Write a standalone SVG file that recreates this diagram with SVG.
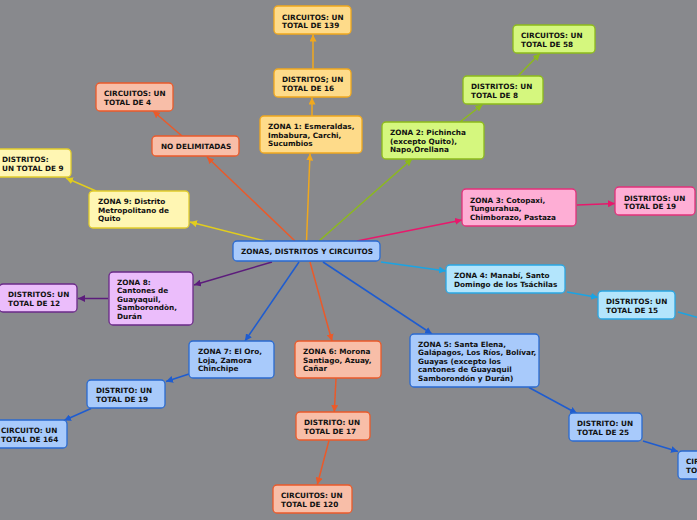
<svg xmlns="http://www.w3.org/2000/svg" width="697" height="520" viewBox="0 0 697 520">
<style>
text{font-family:"DejaVu Sans","Verdana",sans-serif;font-size:7.3px;font-weight:bold;fill:#111;}
.n rect{stroke-width:1.3;}
.blue rect{fill:#a8cafb;stroke:#2a6ad0;}
.gold rect{fill:#fedb8a;stroke:#f0a81e;}
.salmon rect{fill:#f8bea8;stroke:#ea5a2a;}
.yel rect{fill:#fff6b3;stroke:#e2cd2d;}
.green rect{fill:#d5f77e;stroke:#8cba1b;}
.pink rect{fill:#feaed5;stroke:#e2307a;}
.cyan rect{fill:#b3e5fc;stroke:#2aa6e2;}
.purple rect{fill:#ebbdfb;stroke:#6a2a88;}
#connectors line{stroke-width:1.5;fill:none;}
.c-gold{stroke:#f0a81e;}
.c-salmon{stroke:#ea5a2a;}
.c-yel{stroke:#e2cd1d;}
.c-green{stroke:#8cba1b;}
.c-pink{stroke:#e8186c;}
.c-cyan{stroke:#1aa4e4;}
.c-blue{stroke:#1e5cd0;}
.c-purple{stroke:#5c1c7c;}
</style>
<defs>
<marker id="a-gold" markerUnits="userSpaceOnUse" markerWidth="8" markerHeight="7" refX="7" refY="3.5" orient="auto"><path d="M0,0 L7,3.5 L0,7 z" fill="#f0a81e"/></marker>
<marker id="a-salmon" markerUnits="userSpaceOnUse" markerWidth="8" markerHeight="7" refX="7" refY="3.5" orient="auto"><path d="M0,0 L7,3.5 L0,7 z" fill="#ea5a2a"/></marker>
<marker id="a-yel" markerUnits="userSpaceOnUse" markerWidth="8" markerHeight="7" refX="7" refY="3.5" orient="auto"><path d="M0,0 L7,3.5 L0,7 z" fill="#e2cd1d"/></marker>
<marker id="a-green" markerUnits="userSpaceOnUse" markerWidth="8" markerHeight="7" refX="7" refY="3.5" orient="auto"><path d="M0,0 L7,3.5 L0,7 z" fill="#8cba1b"/></marker>
<marker id="a-pink" markerUnits="userSpaceOnUse" markerWidth="8" markerHeight="7" refX="7" refY="3.5" orient="auto"><path d="M0,0 L7,3.5 L0,7 z" fill="#e8186c"/></marker>
<marker id="a-cyan" markerUnits="userSpaceOnUse" markerWidth="8" markerHeight="7" refX="7" refY="3.5" orient="auto"><path d="M0,0 L7,3.5 L0,7 z" fill="#1aa4e4"/></marker>
<marker id="a-blue" markerUnits="userSpaceOnUse" markerWidth="8" markerHeight="7" refX="7" refY="3.5" orient="auto"><path d="M0,0 L7,3.5 L0,7 z" fill="#1e5cd0"/></marker>
<marker id="a-purple" markerUnits="userSpaceOnUse" markerWidth="8" markerHeight="7" refX="7" refY="3.5" orient="auto"><path d="M0,0 L7,3.5 L0,7 z" fill="#5c1c7c"/></marker>
</defs>
<rect x="0" y="0" width="697" height="520" fill="#88898d"/>

<g id="connectors">
<line class="c-gold" x1="306.5" y1="241" x2="310" y2="153.5" marker-end="url(#a-gold)"/>
<line class="c-gold" x1="312" y1="116" x2="312" y2="97.5" marker-end="url(#a-gold)"/>
<line class="c-gold" x1="313" y1="69" x2="313" y2="34.5" marker-end="url(#a-gold)"/>
<line class="c-salmon" x1="295" y1="241" x2="207" y2="157" marker-end="url(#a-salmon)"/>
<line class="c-salmon" x1="182" y1="136" x2="153" y2="111" marker-end="url(#a-salmon)"/>
<line class="c-yel" x1="265" y1="241" x2="190" y2="222" marker-end="url(#a-yel)"/>
<line class="c-yel" x1="96" y1="191" x2="66" y2="178" marker-end="url(#a-yel)"/>
<line class="c-green" x1="319" y1="241" x2="412" y2="159" marker-end="url(#a-green)"/>
<line class="c-green" x1="460" y1="122" x2="482.5" y2="104.5" marker-end="url(#a-green)"/>
<line class="c-green" x1="518" y1="76" x2="540" y2="53.5" marker-end="url(#a-green)"/>
<line class="c-pink" x1="357" y1="241" x2="462" y2="220" marker-end="url(#a-pink)"/>
<line class="c-pink" x1="577" y1="205" x2="615" y2="203.5" marker-end="url(#a-pink)"/>
<line class="c-cyan" x1="381" y1="262" x2="446" y2="271" marker-end="url(#a-cyan)"/>
<line class="c-cyan" x1="567" y1="292" x2="598" y2="297.5" marker-end="url(#a-cyan)"/>
<line class="c-cyan" x1="678" y1="312" x2="700" y2="318"/>
<line class="c-blue" x1="323" y1="262" x2="432" y2="334" marker-end="url(#a-blue)"/>
<line class="c-blue" x1="529" y1="387.5" x2="577" y2="413.5" marker-end="url(#a-blue)"/>
<line class="c-blue" x1="643" y1="441" x2="678" y2="451.5" marker-end="url(#a-blue)"/>
<line class="c-purple" x1="272" y1="262" x2="194" y2="285" marker-end="url(#a-purple)"/>
<line class="c-purple" x1="108" y1="298.5" x2="78" y2="298.5" marker-end="url(#a-purple)"/>
<line class="c-blue" x1="299" y1="262" x2="245" y2="341" marker-end="url(#a-blue)"/>
<line class="c-blue" x1="189" y1="374" x2="166" y2="381.5" marker-end="url(#a-blue)"/>
<line class="c-blue" x1="91" y1="408.5" x2="64" y2="420.5" marker-end="url(#a-blue)"/>
<line class="c-salmon" x1="310" y1="262" x2="332" y2="341" marker-end="url(#a-salmon)"/>
<line class="c-salmon" x1="336" y1="378.5" x2="334.3" y2="412" marker-end="url(#a-salmon)"/>
<line class="c-salmon" x1="329" y1="440.5" x2="317.3" y2="484.5" marker-end="url(#a-salmon)"/>
</g>

<g id="center" class="n blue"><rect x="233" y="241" width="147" height="20" rx="4"/><text x="241" y="254">ZONAS, DISTRITOS Y CIRCUITOS</text></g>

<g id="z1" class="n gold"><rect x="260" y="116" width="102" height="37" rx="4"/><text x="268" y="129">ZONA 1: Esmeraldas,</text><text x="268" y="137.6">Imbabura, Carchi,</text><text x="268" y="146.2">Sucumbios</text></g>
<g id="z1d" class="n gold"><rect x="274" y="69" width="77" height="28" rx="4"/><text x="282" y="82">DISTRITOS; UN</text><text x="282" y="90.8">TOTAL DE 16</text></g>
<g id="z1c" class="n gold"><rect x="274" y="6" width="77" height="28" rx="4"/><text x="282" y="19.5">CIRCUITOS: UN</text><text x="282" y="28.3">TOTAL DE 139</text></g>

<g id="nd" class="n salmon"><rect x="152" y="136" width="87" height="20" rx="4"/><text x="161" y="149">NO DELIMITADAS</text></g>
<g id="ndc" class="n salmon"><rect x="96" y="83" width="77" height="28" rx="4"/><text x="104" y="96">CIRCUITOS: UN</text><text x="104" y="104.6">TOTAL DE 4</text></g>

<g id="z9" class="n yel"><rect x="89" y="191" width="100" height="37" rx="4"/><text x="98" y="204">ZONA 9: Distrito</text><text x="98" y="212.6">Metropolitano de</text><text x="98" y="221.2">Quito</text></g>
<g id="z9d" class="n yel"><rect x="-6" y="149" width="77" height="28" rx="4"/><text x="2" y="162">DISTRITOS:</text><text x="2" y="170.6">UN TOTAL DE 9</text></g>

<g id="z2" class="n green"><rect x="382" y="122" width="102" height="37" rx="4"/><text x="390" y="135">ZONA 2: Pichincha</text><text x="390" y="143.6">(excepto Quito),</text><text x="390" y="152.2">Napo,Orellana</text></g>
<g id="z2d" class="n green"><rect x="463" y="76" width="80" height="28" rx="4"/><text x="471" y="89">DISTRITOS: UN</text><text x="471" y="97.6">TOTAL DE 8</text></g>
<g id="z2c" class="n green"><rect x="513" y="25" width="82" height="28" rx="4"/><text x="521" y="38">CIRCUITOS: UN</text><text x="521" y="46.6">TOTAL DE 58</text></g>

<g id="z3" class="n pink"><rect x="462" y="189" width="114" height="37" rx="4"/><text x="470" y="202.5">ZONA 3: Cotopaxi,</text><text x="470" y="211.1">Tungurahua,</text><text x="470" y="219.7">Chimborazo, Pastaza</text></g>
<g id="z3d" class="n pink"><rect x="615" y="187" width="80" height="28" rx="4"/><text x="624" y="200.5">DISTRITOS: UN</text><text x="624" y="209.1">TOTAL DE 19</text></g>

<g id="z4" class="n cyan"><rect x="446" y="265" width="119" height="28" rx="4"/><text x="454" y="278">ZONA 4: Manabí, Santo</text><text x="454" y="286.6">Domingo de los Tsáchilas</text></g>
<g id="z4d" class="n cyan"><rect x="598" y="291" width="77" height="28" rx="4"/><text x="606" y="304">DISTRITOS: UN</text><text x="606" y="312.6">TOTAL DE 15</text></g>

<g id="z5" class="n blue"><rect x="410" y="334" width="129" height="53" rx="4"/><text x="418" y="346.5">ZONA 5: Santa Elena,</text><text x="418" y="355.1">Galápagos, Los Ríos, Bolívar,</text><text x="418" y="363.7">Guayas (excepto los</text><text x="418" y="372.3">cantones de Guayaquil</text><text x="418" y="380.9">Samborondón y Durán)</text></g>
<g id="z5d" class="n blue"><rect x="569" y="413" width="73" height="28" rx="4"/><text x="577" y="426">DISTRITO: UN</text><text x="577" y="434.6">TOTAL DE 25</text></g>
<g id="z5c" class="n blue"><rect x="678" y="451" width="80" height="28" rx="4"/><text x="686" y="464">CIR</text><text x="686" y="472.6">TOT</text></g>

<g id="z8" class="n purple"><rect x="109" y="272" width="84" height="53" rx="4"/><text x="117" y="284.5">ZONA 8:</text><text x="117" y="293.1">Cantones de</text><text x="117" y="301.7">Guayaquil,</text><text x="117" y="310.3">Samborondòn,</text><text x="117" y="318.9">Durán</text></g>
<g id="z8d" class="n purple"><rect x="-1" y="284" width="78" height="28" rx="4"/><text x="8" y="297">DISTRITOS: UN</text><text x="8" y="305.6">TOTAL DE 12</text></g>

<g id="z7" class="n blue"><rect x="189" y="341" width="85" height="37" rx="4"/><text x="198" y="354">ZONA 7: El Oro,</text><text x="198" y="362.6">Loja, Zamora</text><text x="198" y="371.2">Chinchipe</text></g>
<g id="z7d" class="n blue"><rect x="87" y="380" width="78" height="28" rx="4"/><text x="96" y="393">DISTRITO: UN</text><text x="96" y="401.6">TOTAL DE 19</text></g>
<g id="z7c" class="n blue"><rect x="-10" y="420" width="77" height="28" rx="4"/><text x="1" y="433">CIRCUITO: UN</text><text x="1" y="441.6">TOTAL DE 164</text></g>

<g id="z6" class="n salmon"><rect x="295" y="341" width="86" height="37" rx="4"/><text x="303" y="354">ZONA 6: Morona</text><text x="303" y="362.6">Santiago, Azuay,</text><text x="303" y="371.2">Cañar</text></g>
<g id="z6d" class="n salmon"><rect x="296" y="412" width="74" height="28" rx="4"/><text x="304" y="425">DISTRITO: UN</text><text x="304" y="433.6">TOTAL DE 17</text></g>
<g id="z6c" class="n salmon"><rect x="273" y="485" width="79" height="28" rx="4"/><text x="281" y="498">CIRCUITOS: UN</text><text x="281" y="506.6">TOTAL DE 120</text></g>
</svg>
